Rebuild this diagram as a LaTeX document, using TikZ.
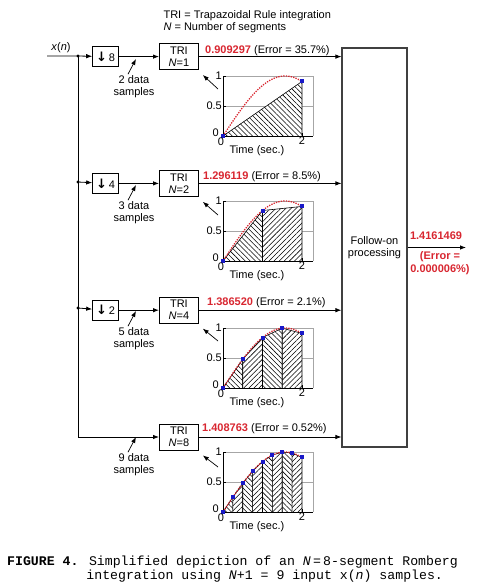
\documentclass[tikz,border=0pt]{standalone}
\usepackage{fontspec}
\setmainfont{Liberation Sans}
\newfontfamily\capfont{Liberation Mono}
\newfontfamily\arrowfont{DejaVu Sans}
\usetikzlibrary{positioning, arrows.meta, patterns.meta}

\definecolor{valred}{RGB}{216,38,48}
\definecolor{markblue}{RGB}{25,25,200}

\newcommand{\dnarrow}{{\arrowfont\bfseries\fontsize{13}{13}\selectfont ↓}}

% trapezoid plot: #1 = segments, #2 = y of origin
\newcommand{\trapplot}[2]{%
  \begin{scope}[shift={(223,#2)}, x=39.5pt, y=60pt]
    \draw[gridline] (0,0.5) -- (2.28,0.5);
    \draw[gridline] (0,1) -- (2.28,1) -- (2.28,0);
    \pgfmathsetmacro\hstep{2/#1}
    \foreach \i in {1,...,#1} {
      \pgfmathsetmacro\ta{(\i-1)*\hstep}
      \pgfmathsetmacro\tb{\i*\hstep}
      \pgfmathsetmacro\hang{ifthenelse(mod(\i,2)==1,-45,45)}
      \fill[white] (\ta,0) -- (\ta,{sin(\ta r)}) -- (\tb,{sin(\tb r)}) -- (\tb,0) -- cycle;
      \path[pattern={Lines[angle=\hang, distance=3.6pt, line width=0.55pt]}]
        (\ta,0) -- (\ta,{sin(\ta r)}) -- (\tb,{sin(\tb r)}) -- (\tb,0) -- cycle;
      \draw[trapline] (\ta,0) -- (\ta,{sin(\ta r)}) -- (\tb,{sin(\tb r)}) -- (\tb,0);
    }
    \draw[axisline] (0,1) -- (0,0) -- (2.28,0);
    \draw[axisline] (0,0.5) -- ++(3pt,0) (0,1) -- ++(3pt,0) (2,0) -- ++(0,3pt);
    \draw[sinecurve] plot[domain=0:2, samples=60, smooth] (\x,{sin(\x r)});
    \foreach \i in {0,...,#1} {
      \pgfmathsetmacro\ta{\i*\hstep}
      \fill[markblue] (\ta,{sin(\ta r)}) ++(-2pt,-2pt) rectangle ++(4pt,4pt);
    }
    \node[ticklbl, anchor=east] at (0,1) {1};
    \node[ticklbl, anchor=east] at (0,0.5) {0.5};
    \node[ticklbl, anchor=east, xshift=-3pt] at (0,0.06) {0};
    \node[ticklbl, anchor=north, xshift=-2pt, yshift=-1pt] at (0,0) {0};
    \node[ticklbl, anchor=north] at (2,0) {2};
    \node[ticklbl] at (0.86,-0.245) {Time (sec.)};
  \end{scope}}

\begin{document}
\begin{tikzpicture}[
	x=1pt, y=-1pt,
	every node/.style={font=\fontsize{11}{12}\selectfont},
	dsbox/.style={
		draw, line width=0.8pt, anchor=center, inner sep=1pt,
		minimum width=26pt, minimum height=20pt
	},
	tribox/.style={
		draw, line width=0.8pt, anchor=center, inner sep=1pt, align=center,
		minimum width=39pt, minimum height=26pt
	},
	fobox/.style={
		draw=black!75, line width=1.1pt, align=center,
		minimum width=65pt, minimum height=399pt
	},
	line/.style={draw, line width=0.8pt, -{Latex[length=6pt, width=4.5pt]}},
	note/.style={draw, line width=0.7pt, -{Latex[length=6pt, width=4.5pt]}},
	smp/.style={align=center, inner sep=1pt},
	val/.style={anchor=base west, inner sep=0pt},
	resval/.style={text=valred, font=\fontsize{11}{12.5}\selectfont\bfseries, align=center, inner sep=0pt},
	gridline/.style={draw=black!35, line width=0.6pt},
	axisline/.style={draw=black, line width=0.7pt},
	trapline/.style={draw=black, line width=0.6pt},
	sinecurve/.style={draw=valred, line width=1.3pt, dash pattern=on 1.3pt off 1.2pt},
	ticklbl/.style={inner sep=1pt},
	captxt/.style={font=\capfont\fontsize{13.2}{14}\selectfont, align=left, inner sep=0pt, anchor=west},
	]
	\useasboundingbox (0,0) rectangle (486,586);

	\node[anchor=west, align=left] (legend) at (160,22) {TRI = Trapazoidal Rule integration\\\textit{N} = Number of segments};

	\matrix[row sep=100pt, column sep=40pt, inner sep=0pt, anchor=north west] at (92,43) {
		\node [dsbox] (ds1) {\dnarrow\,8}; & \node [tribox] (tri1) {TRI\\\textit{N}=1}; \\
		\node [dsbox] (ds2) {\dnarrow\,4}; & \node [tribox] (tri2) {TRI\\\textit{N}=2}; \\
		\node [dsbox] (ds3) {\dnarrow\,2}; & \node [tribox] (tri3) {TRI\\\textit{N}=4}; \\
		& \node [tribox] (tri4) {TRI\\\textit{N}=8}; \\
	};

	\node[fobox] (fop) at (374.5,247.5) {Follow-on\\processing};

	% input and branch points
	\node (xlbl) at (61,48) {\textit{x}(\textit{n})};
	\coordinate (src) at (47,56);
	\coordinate (j1) at (78,56);
	\coordinate (j2) at (78,182);
	\coordinate (j3) at (78,308);
	\fill (j1) circle (1.7pt);
	\fill (j2) circle (1.7pt);
	\fill (j3) circle (1.7pt);

	\path [line] (src) -- (j1) -- (ds1);
	\path [line] (j2) -- (ds2);
	\path [line] (j3) -- (ds3);
	\path [line] (j1) |- (tri4);
	\path [line] (ds1) -- (tri1);
	\path [line] (ds2) -- (tri2);
	\path [line] (ds3) -- (tri3);
	\path [line] (tri1) -- (tri1 -| fop.west);
	\path [line] (tri2) -- (tri2 -| fop.west);
	\path [line] (tri3) -- (tri3 -| fop.west);
	\path [line] (tri4) -- (tri4 -| fop.west);

	\coordinate (out) at (466,247.5);
	\path [line] (fop) -- (out);
	\node[resval] (res) at (436,236) {1.4161469};
	\node[resval] (reserr) at (440,263) {(Error =\\0.000006\%)};

	% integration results
	\node[val] (v1) at (205,53) {\textcolor{valred}{\textbf{0.909297}} (Error = 35.7\%)};
	\node[val] (v2) at (203,179) {\textcolor{valred}{\textbf{1.296119}} (Error = 8.5\%)};
	\node[val] (v3) at (207,305) {\textcolor{valred}{\textbf{1.386520}} (Error = 2.1\%)};
	\node[val] (v4) at (202,431) {\textcolor{valred}{\textbf{1.408763}} (Error = 0.52\%)};

	% sample counts
	\node[smp] (smp1) at (134,86.5) {2 data\\samples};
	\node[smp] (smp2) at (134,212.5) {3 data\\samples};
	\node[smp] (smp3) at (134,338.5) {5 data\\samples};
	\node[smp] (smp4) at (134,464.5) {9 data\\samples};
	\coordinate (s1) at (136,59);
	\coordinate (s2) at (136,185);
	\coordinate (s3) at (136,311);
	\coordinate (s4) at (136,437);
	\path [note] ([xshift=-6pt]smp1.north) -- (s1);
	\path [note] ([xshift=-6pt]smp2.north) -- (s2);
	\path [note] ([xshift=-6pt]smp3.north) -- (s3);
	\path [note] ([xshift=-6pt]smp4.north) -- (s4);

	% plots
	\trapplot{1}{136}
	\trapplot{2}{261}
	\trapplot{4}{388}
	\trapplot{8}{512}
	\coordinate (pa1) at (218,89);
	\coordinate (pa2) at (218,215);
	\coordinate (pa3) at (218,341);
	\coordinate (pa4) at (218,467);
	\path [note] (pa1) -- ([shift={(4,5)}]tri1.south east);
	\path [note] (pa2) -- ([shift={(4,5)}]tri2.south east);
	\path [note] (pa3) -- ([shift={(4,5)}]tri3.south east);
	\path [note] (pa4) -- ([shift={(4,5)}]tri4.south east);

	\node[captxt] (cap) at (7,569) {\textbf{FIGURE 4.} Simplified depiction of an \textit{N}\,=\,8-segment Romberg\\\phantom{\textbf{FIGURE 4.}} integration using \textit{N}+1 = 9 input x(\textit{n}) samples.};
\end{tikzpicture}
\end{document}
